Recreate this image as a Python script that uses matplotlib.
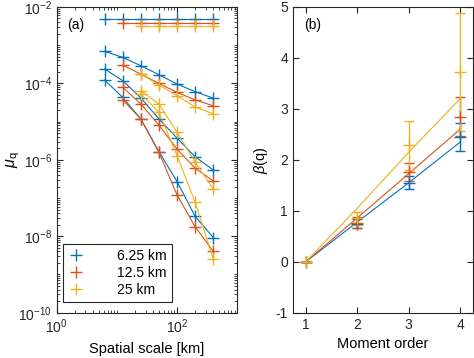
import matplotlib.pyplot as plt
from matplotlib.ticker import LogLocator, NullFormatter, FixedLocator
from matplotlib.lines import Line2D

plt.rcParams['font.family'] = ['Liberation Sans', 'DejaVu Sans']
plt.rcParams['font.size'] = 9
plt.rcParams['axes.unicode_minus'] = False
plt.rcParams['mathtext.fontset'] = 'custom'
plt.rcParams['mathtext.rm'] = 'Liberation Sans'
plt.rcParams['mathtext.it'] = 'Liberation Sans:italic'

# spatial scales [km]
scales = [6.25, 12.5, 25, 50, 100, 200, 400]
resolutions = ['6.25 km', '12.5 km', '25 km']
colors = ['#0072BD', '#D95319', '#EDB120']

# mu_q for q = 1..4, per resolution (starting at that resolution's scale)
mu_625 = [
    [4.85e-3, 4.85e-3, 4.85e-3, 4.85e-3, 4.85e-3, 4.85e-3, 4.85e-3],
    [6.9e-4, 4.8e-4, 2.9e-4, 1.69e-4, 9.6e-5, 6.1e-5, 4.1e-5],
    [2.4e-4, 1.18e-4, 4.2e-5, 1.17e-5, 3.7e-6, 1.2e-6, 5.4e-7],
    [1.23e-4, 4.3e-5, 1.17e-5, 1.63e-6, 2.7e-7, 3.3e-8, 9.2e-9],
]
mu_125 = [
    [3.74e-3, 3.74e-3, 3.74e-3, 3.74e-3, 3.74e-3, 3.74e-3],
    [3.0e-4, 1.76e-4, 1.0e-4, 5.8e-5, 3.7e-5, 2.6e-5],
    [7.9e-5, 2.9e-5, 8.1e-6, 1.9e-6, 6.0e-7, 2.8e-7],
    [3.7e-5, 1.17e-5, 1.57e-6, 1.2e-7, 1.77e-8, 4.0e-9],
]
mu_25 = [
    [3.19e-3, 3.19e-3, 3.19e-3, 3.19e-3, 3.19e-3],
    [1.76e-4, 9.1e-5, 4.8e-5, 2.4e-5, 1.6e-5],
    [6.4e-5, 2.9e-5, 5.2e-6, 8.6e-7, 1.7e-7],
    [5.3e-5, 1.75e-5, 1.28e-6, 7.7e-8, 2.5e-9],
]

# beta(q): fitted lines and estimates with error bars
orders = [1, 2, 3, 4]
beta_fit = [
    [0, 0.78, 1.55, 2.35],
    [0, 0.86, 1.73, 2.60],
    [0, 1.05, 2.15, 3.20],
]
beta_est = [
    [0, 0.75, 1.55, 2.45],
    [0, 0.77, 1.76, 2.85],
    [0, 0.85, 2.29, 3.72],
]
beta_err = [
    [0, 0.09, 0.13, 0.27],
    [0, 0.10, 0.17, 0.38],
    [0, 0.12, 0.48, 1.16],
]

fig = plt.figure(figsize=(4.74, 3.58), dpi=100)
ax1 = fig.add_axes([0.1196, 0.1265, 0.381, 0.854])
ax2 = fig.add_axes([0.618, 0.1265, 0.380, 0.854])

spine_col = '#262626'

for mu, col, start in zip([mu_625, mu_125, mu_25], colors, [0, 1, 2]):
    x = scales[start:]
    for row in mu:
        ax1.plot(x, row, '-', color=col, lw=0.8, marker='+', ms=8, mew=1.0)

ax1.set_xscale('log')
ax1.set_yscale('log')
ax1.set_xlim(1, 1000)
ax1.set_ylim(1e-10, 1e-2)
ax1.xaxis.set_major_locator(FixedLocator([1, 100]))
ax1.xaxis.set_minor_locator(LogLocator(base=10, subs=range(1, 10), numticks=20))
ax1.xaxis.set_minor_formatter(NullFormatter())
ax1.yaxis.set_major_locator(FixedLocator([1e-10, 1e-8, 1e-6, 1e-4, 1e-2]))
ax1.yaxis.set_minor_locator(LogLocator(base=10, subs=range(1, 10), numticks=20))
ax1.yaxis.set_minor_formatter(NullFormatter())
ax1.set_xlabel('Spatial scale [km]', fontsize=10.5)
ax1.set_ylabel(r'$\mu_\mathrm{q}$', fontsize=11.5)
ax1.yaxis.set_label_coords(-0.19, 0.5)
ax1.text(0.06, 0.94, '(a)', transform=ax1.transAxes, fontsize=10, va='center')

handles = [Line2D([], [], color=c, marker='+', ls='none', ms=8, mew=1.0) for c in colors]
leg = ax1.legend(handles, resolutions, loc='lower left', bbox_to_anchor=(0.035, 0.034),
                 borderaxespad=0, fancybox=False, edgecolor=spine_col, framealpha=1,
                 borderpad=0.4, handletextpad=2.5, labelspacing=0.2, fontsize=10,
                 handlelength=1.0)
leg.get_frame().set_linewidth(0.8)

for fit, est, err, col in zip(beta_fit, beta_est, beta_err, colors):
    ax2.plot(orders, fit, '-', color=col, lw=0.8)
    ax2.errorbar(orders, est, yerr=err, fmt='+', color=col, ms=8, mew=1.0,
                 elinewidth=1.0, capsize=3.5, capthick=1.0)

ax2.set_xlim(0.75, 4.25)
ax2.set_ylim(-1, 5)
ax2.set_xticks([1, 2, 3, 4])
ax2.set_yticks([-1, 0, 1, 2, 3, 4, 5])
ax2.set_xlabel('Moment order', fontsize=10.5)
ax2.set_ylabel(r'$\beta$(q)', fontsize=10.5)
ax2.text(0.06, 0.94, '(b)', transform=ax2.transAxes, fontsize=10, va='center')

for ax in (ax1, ax2):
    ax.tick_params(which='both', direction='in', top=True, right=True,
                   colors=spine_col, labelsize=10)
    ax.tick_params(which='major', length=4)
    ax.tick_params(which='minor', length=2)
    for s in ax.spines.values():
        s.set_color(spine_col)
        s.set_linewidth(0.8)

fig.savefig('out.png', dpi=100)
